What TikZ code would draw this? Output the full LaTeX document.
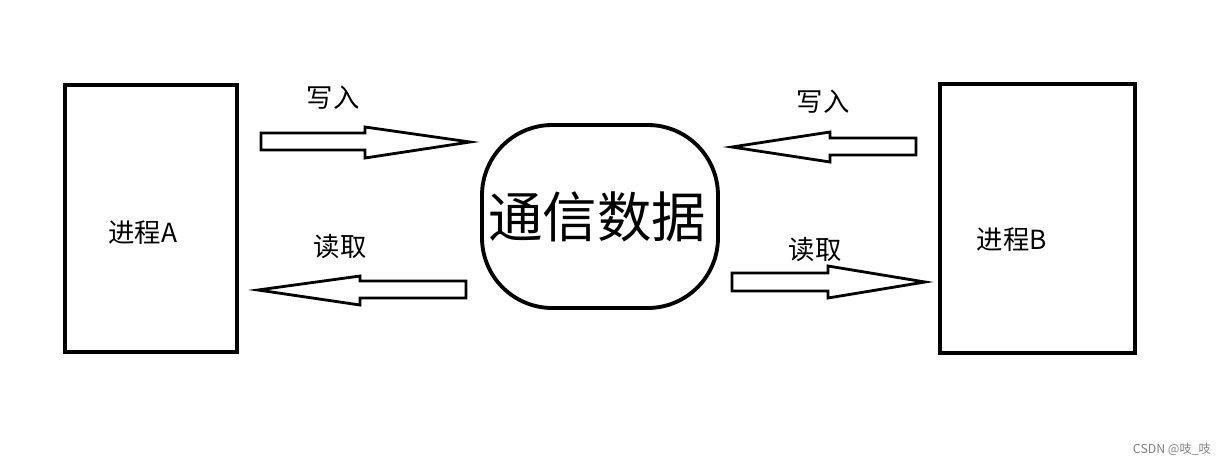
\documentclass[tikz,border=0pt]{standalone}
\usepackage{fontspec}
\setmainfont{Noto Sans CJK SC}
\begin{document}
\begin{tikzpicture}[x=0.02cm,y=-0.02cm,
  proc/.style={draw,line width=2.2pt},
  fatarrow/.style={draw,line width=1.6pt,line join=miter},
  lbl/.style={font=\fontsize{15pt}{17pt}\selectfont}]
\useasboundingbox (0,0) rectangle (1228,464);
\draw[proc] (65,85) rectangle (237,352);
\draw[proc] (940,84) rectangle (1135,353);
\draw[proc,rounded corners=40] (482,125) rectangle (718,308);
\node[font=\fontsize{31pt}{34pt}\selectfont] (c) at (597,217) {通信数据};
\node[lbl] (a) at (143,233) {进程A};
\node[lbl] (b) at (1012,240) {进程B};
% arrow 1: A writes
\draw[fatarrow] (261,133) -- (365,133) -- (365,127) -- (470,142) -- (365,158) -- (365,150) -- (261,150) -- cycle;
% arrow 2: A reads
\draw[fatarrow] (466,281) -- (360,281) -- (360,276) -- (258,290) -- (360,305) -- (360,298) -- (466,298) -- cycle;
% arrow 3: B writes
\draw[fatarrow] (916,138) -- (830,138) -- (830,132) -- (732,147) -- (830,162) -- (830,155) -- (916,155) -- cycle;
% arrow 4: B reads
\draw[fatarrow] (732,273) -- (828,273) -- (828,266) -- (925,282) -- (828,298) -- (828,291) -- (732,291) -- cycle;
\node[lbl] (w1) at (333,98) {写入};
\node[lbl] (r1) at (340,247) {读取};
\node[lbl] (w2) at (823,102) {写入};
\node[lbl] (r2) at (815,250) {读取};
\node[font=\fontsize{7pt}{8pt}\selectfont,text=gray] (wm) at (1172,449) {CSDN @吱\_吱};
\end{tikzpicture}
\end{document}
